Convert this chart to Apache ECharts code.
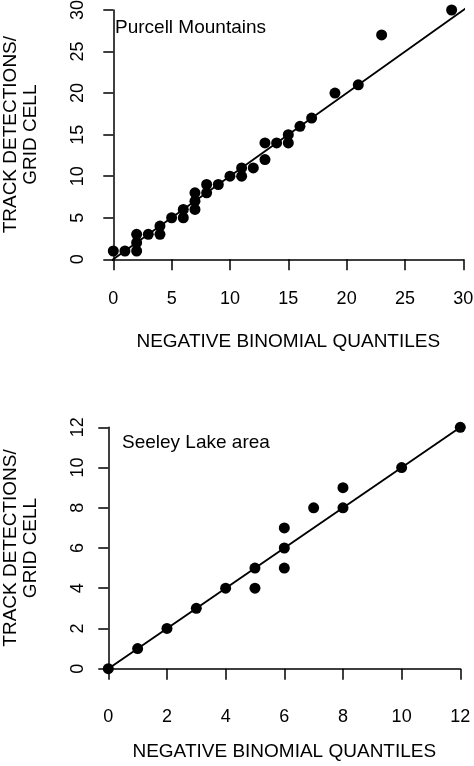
<!DOCTYPE html>
<html>
<head>
<meta charset="utf-8">
<script src="https://cdn.jsdelivr.net/npm/echarts@6/dist/echarts.min.js"></script>
<style>
html,body{margin:0;padding:0;background:#fff;}
#chart{width:474px;height:766px;}
</style>
</head>
<body>
<div id="chart"></div>
<script>
// Purcell Mountains panel
var purcellQuantiles = [0,1,2,2,2,3,4,4,5,6,6,7,7,7,8,8,9,10,11,11,12,13,13,14,15,15,16,17,19,21,23,29];
var purcellDetections = [1,1,1,2,3,3,3,4,5,5,6,6,7,8,8,9,9,10,10,11,11,12,14,14,14,15,16,17,20,21,27,30];
var purcellRefLine = [-0.5, 30.35];
var purcellTicks = [0,5,10,15,20,25,30];

// Seeley Lake panel
var seeleyQuantiles = [0,1,2,3,4,5,5,6,6,6,7,8,8,10,12];
var seeleyDetections = [0,1,2,3,4,4,5,5,6,7,8,8,9,10,12];
var seeleyRefLine = [-0.2, 12.25];
var seeleyTicks = [0,2,4,6,8,10,12];

var panelLabels = ['Purcell Mountains', 'Seeley Lake area'];
var xName = 'NEGATIVE BINOMIAL QUANTILES';
var yName = 'TRACK DETECTIONS/\nGRID CELL';

function pairs(a, b){ return a.map(function(v,i){ return [v, b[i]]; }); }

var FONT = 'Liberation Sans';
var FS = 19;
var TFS = 18;

function xAxisCfg(gi, ticks, offset){
  return {
    type:'value', gridIndex:gi, min:ticks[0], max:ticks[ticks.length-1], interval:ticks[1]-ticks[0],
    offset:offset,
    axisLine:{show:true, lineStyle:{color:'#000', width:1.5}},
    axisTick:{show:true, inside:false, length:11, lineStyle:{color:'#000', width:1.5}},
    axisLabel:{show:true, color:'#000', fontFamily:FONT, fontSize:TFS, margin:29},
    splitLine:{show:false},
    name:xName, nameLocation:'middle', nameGap:gi===0?71:63,
    nameTextStyle:{color:'#000', fontFamily:FONT, fontSize:FS}
  };
}
function yAxisCfg(gi, ticks, offset){
  return {
    type:'value', gridIndex:gi, min:ticks[0], max:ticks[ticks.length-1], interval:ticks[1]-ticks[0],
    offset:offset,
    axisLine:{show:true, lineStyle:{color:'#000', width:1.5}},
    axisTick:{show:true, inside:false, length:10, lineStyle:{color:'#000', width:1.5}},
    axisLabel:{show:true, color:'#000', fontFamily:FONT, fontSize:TFS, margin:21, rotate:90},
    splitLine:{show:false},
    name:yName, nameLocation:'middle', nameGap:gi===0?67:68, nameRotate:90,
    nameTextStyle:{color:'#000', fontFamily:FONT, fontSize:FS, lineHeight:20, align:'center'}
  };
}

var chart = echarts.init(document.getElementById('chart'), null, {renderer:'canvas'});
chart.setOption({
  backgroundColor:'#fff',
  animation:false,
  title:[
    {text:panelLabels[0], left:115, top:18, textStyle:{fontFamily:FONT, fontSize:FS, fontWeight:'normal', color:'#000'}, padding:0},
    {text:panelLabels[1], left:122, top:433, textStyle:{fontFamily:FONT, fontSize:FS, fontWeight:'normal', color:'#000'}, padding:0}
  ],
  grid:[
    {left:113.3, right:10.7, top:10, height:249.3, containLabel:false, outerBoundsMode:'none'},
    {left:108.3, right:13.7, top:427.3, height:241.4, containLabel:false, outerBoundsMode:'none'}
  ],
  xAxis:[xAxisCfg(0, purcellTicks, 1.5), xAxisCfg(1, seeleyTicks, 10.5)],
  yAxis:[yAxisCfg(0, purcellTicks, 5.6), yAxisCfg(1, seeleyTicks, 0)],
  series:[
    {type:'line', xAxisIndex:0, yAxisIndex:0, data:pairs(purcellRefLine, purcellRefLine), clip:false,
     symbol:'none', lineStyle:{color:'#000', width:1.8}, silent:true, z:1},
    {type:'scatter', xAxisIndex:0, yAxisIndex:0, data:pairs(purcellQuantiles, purcellDetections),
     symbol:'circle', symbolSize:11, itemStyle:{color:'#000', opacity:1}, z:2},
    {type:'line', xAxisIndex:1, yAxisIndex:1, data:pairs(seeleyRefLine, seeleyRefLine), clip:false,
     symbol:'none', lineStyle:{color:'#000', width:1.8}, silent:true, z:1},
    {type:'scatter', xAxisIndex:1, yAxisIndex:1, data:pairs(seeleyQuantiles, seeleyDetections),
     symbol:'circle', symbolSize:11, itemStyle:{color:'#000', opacity:1}, z:2}
  ]
});
</script>
</body>
</html>
